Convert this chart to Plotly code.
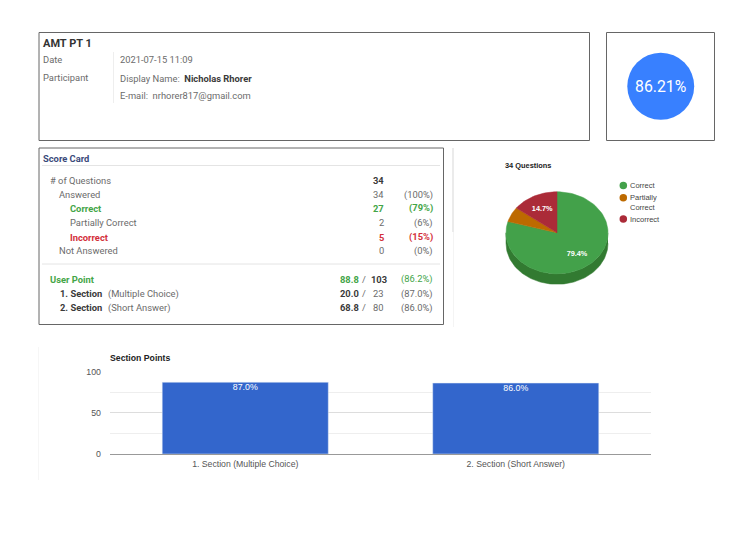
import math
import plotly.graph_objects as go

W, H = 755, 559
# ---------- data ----------
title = "AMT PT 1"
date_value = "2021-07-15 11:09"
display_name = "Nicholas Rhorer"
email = "nrhorer817@gmail.com"
overall_score = "86.21%"

pie_labels = ["Correct", "Partially<br>Correct", "Incorrect"]
pie_values = [27, 2, 5]
pie_title = "34 Questions"

section_names = ["1. Section (Multiple Choice)", "2. Section (Short Answer)"]
section_pct = [87.0, 86.0]
bar_title = "Section Points"
y_ticks = [0, 50, 100]

count_rows = ["# of Questions", "Answered", "Correct", "Partially Correct", "Incorrect", "Not Answered"]
count_vals = ["34", "34", "27", "2", "5", "0"]
count_pcts = ["", "(100%)", "(79%)", "(6%)", "(15%)", "(0%)"]
point_rows = ["User Point", "1. Section", "2. Section"]
point_notes = ["", "(Multiple Choice)", "(Short Answer)"]
point_got = ["88.8", "20.0", "68.8"]
point_max = ["103", "23", "80"]
point_pcts = ["(86.2%)", "(87.0%)", "(86.0%)"]

# ---------- styles ----------
GREEN_T, RED_T, GRAY, DARK = "#43a547", "#d32f3a", "#6b6b6b", "#3a3a3a"
PIE_COL = ["#43a14a", "#bd6a00", "#ab2b38"]
PIE_SIDE = "#327a31"
FONT = "Roboto, sans-serif"
CHART = "Liberation Sans, Arial, sans-serif"
BODY = 9.35
BAR_LABEL_DROP = 2

fig = go.Figure()
ann, shp = [], []


def px(x): return x / W
def py(y): return 1 - y / H


def text(x, y, s, size=10, color=GRAY, anchor="left", font=FONT, bold=False):
    if bold:
        s = f"<b>{s}</b>"
    ann.append(dict(x=px(x), y=py(y), xref="paper", yref="paper", text=s,
                    showarrow=False, xanchor=anchor, yanchor="middle",
                    font=dict(family=font, size=size, color=color),
                    borderpad=0, borderwidth=0))


def box(x0, y0, x1, y1, color="#666666", w=1):
    shp.append(dict(type="rect", xref="paper", yref="paper", x0=px(x0), x1=px(x1), y0=py(y0), y1=py(y1),
                    line=dict(color=color, width=w), layer="below"))


def hline(x0, x1, y, color="#e4e4e4", w=1):
    shp.append(dict(type="line", xref="paper", yref="paper", x0=px(x0), x1=px(x1), y0=py(y), y1=py(y),
                    line=dict(color=color, width=w), layer="below"))


def vline(x, y0, y1, color="#eeeeee", w=1):
    shp.append(dict(type="line", xref="paper", yref="paper", x0=px(x), x1=px(x), y0=py(y0), y1=py(y1),
                    line=dict(color=color, width=w), layer="below"))


# ---------- panels ----------
box(39, 32.5, 589.5, 140.5)
box(606.5, 32.5, 714.5, 140.5)
box(39, 148, 443.5, 324.5)
vline(113.5, 52, 103)
vline(453, 148, 232, "#ebebeb", 2)
vline(453.5, 232, 327, "#f4f4f4")
vline(38.5, 347, 480, "#f6f6f6")

text(42.5, 44, title, 11, "#333333", bold=True)
text(42.5, 59.5, "Date", BODY)
text(42.5, 77, "Participant", BODY)
text(120, 59.5, date_value, BODY)
text(120, 78, f"Display Name:&nbsp;&nbsp;<b style='color:#3a3a3a'>{display_name}</b>", BODY)
text(120, 95.5, f"E-mail:&nbsp;&nbsp;{email}", BODY)

shp.append(dict(type="circle", xref="paper", yref="paper", x0=px(627.3), x1=px(694.2), y0=py(52.8), y1=py(119.8),
                fillcolor="#3880ff", line=dict(width=0), layer="below"))
text(660.7, 86.3, overall_score, 15.8, "#ffffff", "center")

# ---------- score card ----------
text(42.5, 158.5, "Score Card", BODY, "#3b4a7a", bold=True)
hline(42, 440, 165.5)
hline(42, 440, 264)
row_y = [180, 194.5, 208.5, 222.5, 237, 251]
row_x = [49.5, 59, 69.5, 69.5, 69.5, 59]
row_col = [GRAY, GRAY, GREEN_T, GRAY, RED_T, GRAY]
row_bold = [False, False, True, False, True, False]
for i, name in enumerate(count_rows):
    text(row_x[i], row_y[i], name, BODY, row_col[i], bold=row_bold[i])
    numcol = DARK if i == 0 else row_col[i]
    text(384, row_y[i], count_vals[i], BODY, numcol, "right", bold=row_bold[i] or i == 0)
    if count_pcts[i]:
        text(433, row_y[i], count_pcts[i], BODY, row_col[i], "right", bold=row_bold[i])

pt_y = [279, 293.5, 307.5]
for i, name in enumerate(point_rows):
    c = GREEN_T if i == 0 else DARK
    text(49.5 if i == 0 else 59.5, pt_y[i], name, BODY, c, bold=True)
    if point_notes[i]:
        text(107.5, pt_y[i], point_notes[i], BODY, GRAY)
    text(359, pt_y[i], point_got[i], BODY, c, "right", bold=True)
    text(364, pt_y[i], "/", BODY, GRAY, "center")
    text(384 if i else 387, pt_y[i], point_max[i], BODY, DARK if i == 0 else GRAY, "right", bold=i == 0)
    text(433, pt_y[i], point_pcts[i], BODY, GREEN_T if i == 0 else GRAY, "right")

# ---------- oblate pie (page-pixel overlay axes) ----------
CX, CY, RX, RY, DEPTH = 557, 232.8, 51, 41, 10.5
total = sum(pie_values)


def pt(angle, frac=1.0, dy=0.0):
    return CX + frac * RX * math.sin(angle), CY + dy - frac * RY * math.cos(angle)


# side wall: lower half of the rim pushed down by the depth
n = 90
sx, sy = [], []
for k in range(n + 1):
    a = math.pi / 2 + math.pi * k / n
    x, y = pt(a)
    sx.append(x); sy.append(y)
for k in range(n, -1, -1):
    a = math.pi / 2 + math.pi * k / n
    x, y = pt(a, dy=DEPTH)
    sx.append(x); sy.append(y)
fig.add_trace(go.Scatter(x=sx, y=sy, xaxis="x2", yaxis="y2", mode="lines", fill="toself", fillcolor=PIE_SIDE,
                         line=dict(width=0.5, color=PIE_SIDE), hoverinfo="skip", showlegend=False))

cum = 0
lx, ly, lt = [], [], []
for v, col in zip(pie_values, PIE_COL):
    a0 = 2 * math.pi * cum / total
    a1 = 2 * math.pi * (cum + v) / total
    steps = max(6, int(120 * v / total))
    xs, ys = [CX], [CY]
    for k in range(steps + 1):
        x, y = pt(a0 + (a1 - a0) * k / steps)
        xs.append(x); ys.append(y)
    xs.append(CX); ys.append(CY)
    fig.add_trace(go.Scatter(x=xs, y=ys, xaxis="x2", yaxis="y2", mode="lines", fill="toself", fillcolor=col,
                             line=dict(width=0.5, color=col), hoverinfo="skip", showlegend=False))
    if v / total > 0.1:
        x, y = pt((a0 + a1) / 2, 0.65)
        lx.append(x); ly.append(y + 0.5); lt.append(f"{100 * v / total:.1f}%")
    cum += v
fig.add_trace(go.Scatter(x=lx, y=ly, text=lt, xaxis="x2", yaxis="y2", mode="text", hoverinfo="skip", showlegend=False,
                         textfont=dict(family=CHART, size=7.3, color="#ffffff", weight="bold")))

# legend keys and labels
KEY_X, LABEL_X = 623.3, 630
key_y = [185.5, 197.7, 219]
fig.add_trace(go.Scatter(x=[KEY_X] * len(key_y), y=key_y, xaxis="x2", yaxis="y2", mode="markers", hoverinfo="skip",
                         showlegend=False, marker=dict(color=PIE_COL, size=7.5, line=dict(width=0))))
for label, y0 in zip(pie_labels, key_y):
    for j, part in enumerate(label.split("<br>")):
        text(LABEL_X, y0 + j * 9.5, part, 7.5, "#444444", font=CHART)
text(505, 166, pie_title, 7.4, "#222222", font=CHART, bold=True)

# ---------- bars ----------
fig.add_trace(go.Bar(x=section_names, y=section_pct, marker=dict(color="#3366cc"), width=0.614, showlegend=False))
fig.add_trace(go.Scatter(x=section_names, y=[v - BAR_LABEL_DROP for v in section_pct],
                         text=[f"{v:.1f}%" for v in section_pct], mode="text",
                         textposition="bottom center", hoverinfo="skip", showlegend=False, cliponaxis=False,
                         textfont=dict(family=CHART, size=8.8, color="#ffffff")))
text(110, 358, bar_title, 8.7, "#222222", font=CHART, bold=True)

fig.update_layout(
    width=W, height=H, margin=dict(l=0, r=0, t=0, b=0, autoexpand=False), paper_bgcolor="white",
    plot_bgcolor="rgba(0,0,0,0)", annotations=ann, shapes=shp, showlegend=False,
    xaxis=dict(domain=[px(110), px(651)], anchor="y", showgrid=False, showline=False, ticks="", fixedrange=True,
               tickfont=dict(family=CHART, size=8.7, color="#555555"), zeroline=False, ticklabelstandoff=3),
    yaxis=dict(domain=[py(454), py(371.5)], anchor="x", range=[0, 100], tickvals=y_ticks, gridcolor="#dddddd",
               gridwidth=1, ticks="", tickfont=dict(family=CHART, size=8.8, color="#555555"), fixedrange=True,
               zeroline=True, zerolinecolor="#999999", zerolinewidth=1, ticklabelstandoff=8,
               minor=dict(tickvals=[25, 75], showgrid=True, gridcolor="#eeeeee", gridwidth=1, ticks="")),
    xaxis2=dict(domain=[0, 1], range=[0, W], visible=False, anchor="y2", fixedrange=True),
    yaxis2=dict(domain=[0, 1], range=[H, 0], visible=False, anchor="x2", fixedrange=True),
)
fig.write_html("out.html", config={"displayModeBar": False},
               post_script="document.body.style.margin='0';document.documentElement.style.overflow='hidden';")
